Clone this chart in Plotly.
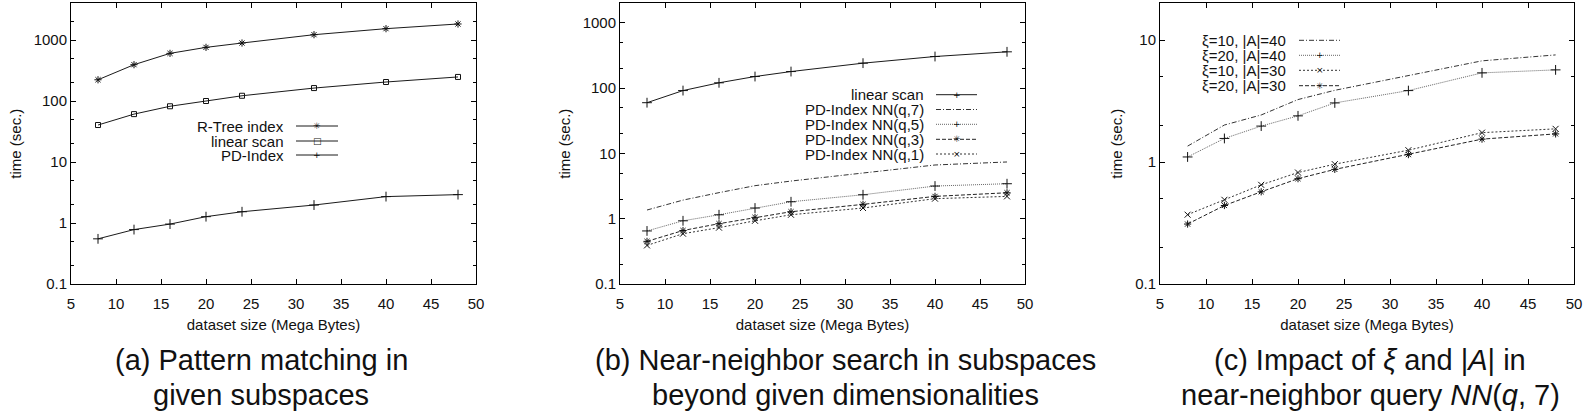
import plotly.graph_objects as go

# dataset size (MB) shared by all three panels
x_mb = [8, 12, 16, 20, 24, 32, 40, 48]

# (a) pattern matching in given subspaces
rtree_a = [223, 394, 604, 758, 893, 1223, 1535, 1832]
linear_a = [40.4, 61, 82, 100, 122, 163, 205, 248]
pdindex_a = [0.55, 0.78, 0.96, 1.27, 1.53, 1.97, 2.71, 2.92]

# (b) near-neighbor search beyond given dimensionalities
linear_b = [60, 92, 121, 151, 180, 242, 306, 361]
nn7_b = [1.36, 1.93, 2.51, 3.21, 3.78, 5.08, 6.66, 7.41]
nn5_b = [0.65, 0.93, 1.15, 1.46, 1.82, 2.33, 3.17, 3.44]
nn3_b = [0.45, 0.66, 0.84, 1.05, 1.28, 1.66, 2.20, 2.50]
nn1_b = [0.39, 0.59, 0.73, 0.93, 1.15, 1.46, 2.03, 2.20]

# (c) impact of xi and |A|
xi10_a40 = [1.35, 2.01, 2.43, 3.25, 3.87, 5.08, 6.75, 7.55]
xi20_a40 = [1.10, 1.56, 1.97, 2.39, 3.05, 3.85, 5.38, 5.69]
xi10_a30 = [0.37, 0.49, 0.65, 0.82, 0.96, 1.25, 1.74, 1.87]
xi20_a30 = [0.31, 0.44, 0.57, 0.73, 0.87, 1.15, 1.54, 1.70]

names_a = ["R-Tree index", "linear scan", "PD-Index"]
names_b = ["linear scan", "PD-Index NN(q,7)", "PD-Index NN(q,5)", "PD-Index NN(q,3)", "PD-Index NN(q,1)"]
names_c = ["ξ=10, |A|=40", "ξ=20, |A|=40", "ξ=10, |A|=30", "ξ=20, |A|=30"]

FONT = "Liberation Sans, Arial, sans-serif"
W, H = 1585, 411

# line styles (dash, colour, marker symbol, marker size, legend glyph)
SOLID_AST = ("solid", "#1a1a1a", "asterisk-open", 6, "✳")
SOLID_SQ = ("solid", "#1a1a1a", "square-open", 5, "□")
SOLID_PLUS = ("solid", "#1a1a1a", "cross-thin-open", 7, "+")
DASHDOT = ("5px,2px,1px,2px", "#333333", None, 0, "")
DOT_PLUS = ("1px,1px", "#666666", "cross-thin-open", 7, "+")
DASH_AST = ("4px,2px", "#222222", "asterisk-open", 6, "✳")
SHORT_X = ("2px,2px", "#333333", "x-thin-open", 6, "×")

fig = go.Figure()


def add_series(xa, ya, yvals, name, style):
    dash, color, symbol, msize, _ = style
    mode = "lines+markers" if symbol else "lines"
    fig.add_trace(go.Scatter(
        x=x_mb, y=yvals, name=name, mode=mode, xaxis=xa, yaxis=ya,
        line=dict(color=color, width=1, dash=dash),
        marker=dict(symbol=symbol or "circle", size=msize, color="#111",
                    line=dict(color="#111", width=1)),
        showlegend=False,
    ))


add_series("x", "y", rtree_a, names_a[0], SOLID_AST)
add_series("x", "y", linear_a, names_a[1], SOLID_SQ)
add_series("x", "y", pdindex_a, names_a[2], SOLID_PLUS)

add_series("x2", "y2", linear_b, names_b[0], SOLID_PLUS)
add_series("x2", "y2", nn7_b, names_b[1], DASHDOT)
add_series("x2", "y2", nn5_b, names_b[2], DOT_PLUS)
add_series("x2", "y2", nn3_b, names_b[3], DASH_AST)
add_series("x2", "y2", nn1_b, names_b[4], SHORT_X)

add_series("x3", "y3", xi10_a40, names_c[0], DASHDOT)
add_series("x3", "y3", xi20_a40, names_c[1], DOT_PLUS)
add_series("x3", "y3", xi10_a30, names_c[2], SHORT_X)
add_series("x3", "y3", xi20_a30, names_c[3], DASH_AST)


def minor_vals(lo_exp, hi_exp):
    return [m * 10 ** e for e in range(lo_exp, hi_exp + 1) for m in (2, 5)]


def xaxis(domain, anchor):
    return dict(
        domain=domain, anchor=anchor, range=[5, 50], dtick=5, tick0=5,
        showgrid=False, zeroline=False, showline=True, linecolor="black", linewidth=1,
        mirror="ticks", ticks="inside", ticklen=5, tickcolor="black",
        ticklabelstandoff=6,
        tickfont=dict(family=FONT, size=15, color="#111"),
        title=dict(text="dataset size (Mega Bytes)", standoff=8,
                   font=dict(family=FONT, size=15, color="#111")),
        automargin=False,
    )


def yaxis(domain, anchor, top, tickvals, minor):
    return dict(
        domain=domain, anchor=anchor, type="log", range=[-1, top],
        tickvals=tickvals, ticktext=[f"{v:g}" for v in tickvals],
        showgrid=False, zeroline=False, showline=True, linecolor="black", linewidth=1,
        mirror="ticks", ticks="inside", ticklen=5, tickcolor="black",
        minor=dict(tickvals=minor, ticks="inside", ticklen=3, tickcolor="black", showgrid=False),
        tickfont=dict(family=FONT, size=15, color="#111"),
        title=dict(text="time (sec.)", standoff=8,
                   font=dict(family=FONT, size=15, color="#111")),
        automargin=False,
    )


ydom = [1 - 284 / H, 1 - 3.3 / H]
fig.update_layout(
    width=W, height=H,
    margin=dict(l=0, r=0, t=0, b=0),
    paper_bgcolor="white", plot_bgcolor="white",
    font=dict(family=FONT, color="#111"),
    xaxis=xaxis([71 / W, 476 / W], "y"),
    yaxis=yaxis(ydom, "x", 3.602, [0.1, 1, 10, 100, 1000], minor_vals(-1, 3)),
    xaxis2=xaxis([620 / W, 1025 / W], "y2"),
    yaxis2=yaxis(ydom, "x2", 3.301, [0.1, 1, 10, 100, 1000], minor_vals(-1, 3)),
    xaxis3=xaxis([1160 / W, 1574 / W], "y3"),
    yaxis3=yaxis(ydom, "x3", 1.301, [0.1, 1, 10], minor_vals(-1, 1)),
    showlegend=False,
)

# gnuplot-style keys: text right-aligned, then the line sample with its marker
annotations = []
shapes = []


def add_key(names, styles, rows, text_right, line_x0, line_x1):
    for name, style, row in zip(names, styles, rows):
        dash, color, _, _, glyph = style
        yp = 1 - row / H
        annotations.append(dict(
            text=name, x=text_right / W, y=yp, xref="paper", yref="paper",
            xanchor="right", yanchor="middle", showarrow=False,
            font=dict(family=FONT, size=15, color="#111")))
        shapes.append(dict(
            type="line", xref="paper", yref="paper",
            x0=line_x0 / W, x1=line_x1 / W, y0=yp, y1=yp,
            line=dict(color=color, width=1, dash=dash)))
        if glyph:
            annotations.append(dict(
                text=glyph, x=(line_x0 + line_x1) / 2 / W, y=yp, xref="paper", yref="paper",
                xanchor="center", yanchor="middle", showarrow=False,
                font=dict(family="DejaVu Sans", size=9, color="#111")))


add_key(names_a, [SOLID_AST, SOLID_SQ, SOLID_PLUS], [126, 141, 155], 286, 296, 338)
add_key(names_b, [SOLID_PLUS, DASHDOT, DOT_PLUS, DASH_AST, SHORT_X],
        [94.7, 109.5, 124.3, 139.3, 154], 926, 936, 977)
add_key(names_c, [DASHDOT, DOT_PLUS, SHORT_X, DASH_AST], [40.3, 55.3, 70.3, 85.7], 1288, 1299, 1340)

# captions under each panel
captions = [
    (261, ["(a) Pattern matching in", "given subspaces"]),
    (845, ["(b) Near-neighbor search in subspaces", "beyond given dimensionalities"]),
    (1370, ["(c) Impact of <i>ξ</i> and |<i>A</i>| in", "near-neighbor query <i>NN</i>(<i>q</i>, 7)"]),
]
for cx, lines in captions:
    for line, cy in zip(lines, [360, 395]):
        annotations.append(dict(
            text=line, x=cx / W, y=1 - cy / H, xref="paper", yref="paper",
            xanchor="center", yanchor="middle", showarrow=False,
            font=dict(family=FONT, size=29, color="#111")))

fig.update_layout(annotations=annotations, shapes=shapes)

# drop the browser's default body margin so the figure sits at the page corner
fig.write_html("out.html", config={"displayModeBar": False},
               post_script="document.body.style.margin='0';")
